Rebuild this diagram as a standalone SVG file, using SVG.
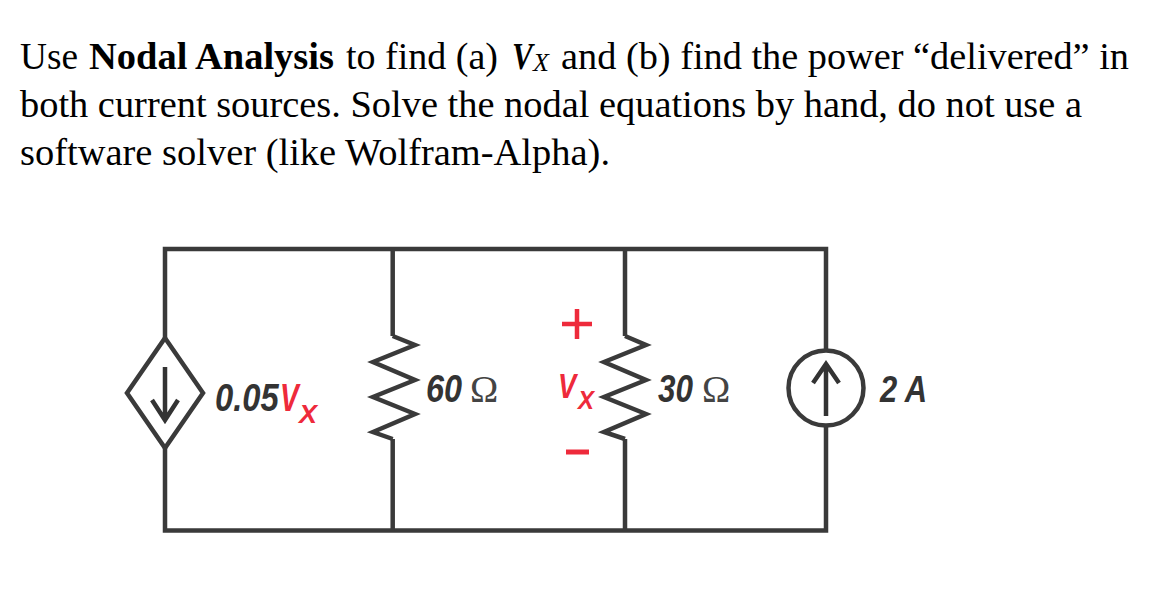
<svg xmlns="http://www.w3.org/2000/svg" width="1176" height="605" viewBox="0 0 1176 605">
<style>
.t{font-family:"Liberation Serif","Times New Roman",serif;font-size:38px;fill:#000}
.w{fill:none;stroke:#3a3a3a;stroke-width:4.5;stroke-linejoin:miter;stroke-linecap:butt}
.s{fill:none;stroke:#333;stroke-width:4.5}
.l{font-family:"Liberation Sans",Arial,sans-serif;font-style:italic;font-weight:bold;fill:#333;font-size:39px}
.r{fill:#ee2a3b}
.sub{font-size:26px}
.o{font-family:"Liberation Serif","Times New Roman",serif;font-size:38px;fill:#444}
</style>
<rect width="1176" height="605" fill="#fff"/>
<g id="question">
<text class="t" x="20" y="69" textLength="58" lengthAdjust="spacingAndGlyphs">Use</text>
<text class="t" x="89" y="69" font-weight="bold" textLength="245" lengthAdjust="spacingAndGlyphs">Nodal Analysis</text>
<text class="t" x="346" y="69" textLength="152" lengthAdjust="spacingAndGlyphs">to find (a)</text>
<text class="t" transform="translate(512 69) scale(.82 1)" font-weight="bold" font-style="italic">V</text>
<text class="t" x="533" y="71" font-style="italic" style="font-size:26px">X</text>
<text class="t" x="561" y="69" textLength="568" lengthAdjust="spacingAndGlyphs">and (b) find the power “delivered” in</text>
<text class="t" x="20" y="117" textLength="1062" lengthAdjust="spacingAndGlyphs">both current sources. Solve the nodal equations by hand, do not use a</text>
<text class="t" x="20" y="165" textLength="590" lengthAdjust="spacingAndGlyphs">software solver (like Wolfram-Alpha).</text>
</g>
<g id="wires">
<path class="w" d="M165 338V249H826V351"/>
<path class="w" d="M165 448V530.5H826V426"/>
<path class="w" d="M392.700 249V336M392.700 439V530.500"/>
<path class="w" d="M625 249V336M625 439V530.500"/>
</g>
<g id="dependent-source">
<path class="w" d="M165 338L203 393L165 448L127 393Z"/>
<path class="s" d="M165 367V421M152 400L165 420L178 400"/>
<text class="l" transform="translate(215 411) scale(.84 1)">0.05</text>
<text class="l r" transform="translate(280 411) scale(.72 1)">V</text>
<text class="l r sub" x="299" y="423" textLength="18" lengthAdjust="spacingAndGlyphs" style="font-size:26px">X</text>
</g>
<g id="resistor-60">
<path class="w" d="M392.700 336L415 345L373 362L415 380L373 397L415 414L373 432L392.700 439"/>
<text class="l" x="426" y="402" textLength="36" lengthAdjust="spacingAndGlyphs">60</text>
<text class="o" x="470" y="402">Ω</text>
</g>
<g id="resistor-30">
<path class="w" d="M625 336L646 345L604 362L646 380L604 397L646 414L604 432L625 439"/>
<text class="l" x="658" y="402" textLength="35" lengthAdjust="spacingAndGlyphs">30</text>
<text class="o" x="702" y="402">Ω</text>
</g>
<g id="voltage-vx">
<path d="M562 324H592M577 309V339" fill="none" stroke="#ee2a3b" stroke-width="4.500"/>
<path d="M566 452H589" fill="none" stroke="#ee2a3b" stroke-width="5"/>
<text class="l r" transform="translate(558 398) scale(.76 1)" style="font-size:36px">V</text>
<text class="l r sub" x="578" y="409" textLength="16" lengthAdjust="spacingAndGlyphs" style="font-size:26px">X</text>
</g>
<g id="current-source">
<circle class="w" cx="826" cy="388" r="37.500"/>
<path class="s" d="M826 416V364M813 383L826 364L839 383"/>
<text class="l" x="880" y="402" textLength="47" lengthAdjust="spacingAndGlyphs" style="font-size:37px">2 A</text>
</g>
</svg>
